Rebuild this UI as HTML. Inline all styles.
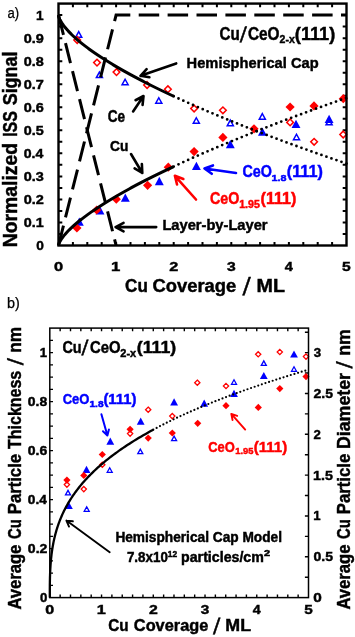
<!DOCTYPE html>
<html><head><meta charset="utf-8"><title>Cu/CeO2-x(111) ISS and particle size</title>
<style>html,body{margin:0;padding:0;background:#fff;width:355px;height:637px;overflow:hidden}svg{display:block}</style>
</head><body>
<svg width="355" height="637" viewBox="0 0 355 637" font-family='"Liberation Sans", sans-serif' font-weight="bold">
<rect width="355" height="637" fill="#fff"/>
<path d="M72.9 245.5v-3.6M72.9 3.58v3.6M87.3 245.5v-3.6M87.3 3.58v3.6M101.7 245.5v-3.6M101.7 3.58v3.6M116.1 245.5v-3.6M116.1 3.58v3.6M130.5 245.5v-3.6M130.5 3.58v3.6M144.9 245.5v-3.6M144.9 3.58v3.6M159.3 245.5v-3.6M159.3 3.58v3.6M173.7 245.5v-3.6M173.7 3.58v3.6M188.1 245.5v-3.6M188.1 3.58v3.6M202.5 245.5v-3.6M202.5 3.58v3.6M216.9 245.5v-3.6M216.9 3.58v3.6M231.3 245.5v-3.6M231.3 3.58v3.6M245.7 245.5v-3.6M245.7 3.58v3.6M260.1 245.5v-3.6M260.1 3.58v3.6M274.5 245.5v-3.6M274.5 3.58v3.6M288.9 245.5v-3.6M288.9 3.58v3.6M303.3 245.5v-3.6M303.3 3.58v3.6M317.7 245.5v-3.6M317.7 3.58v3.6M332.1 245.5v-3.6M332.1 3.58v3.6M58.5 233.98h3.8M346.5 233.98h-3.8M58.5 222.46h3.8M346.5 222.46h-3.8M58.5 210.94h3.8M346.5 210.94h-3.8M58.5 199.42h3.8M346.5 199.42h-3.8M58.5 187.9h3.8M346.5 187.9h-3.8M58.5 176.38h3.8M346.5 176.38h-3.8M58.5 164.86h3.8M346.5 164.86h-3.8M58.5 153.34h3.8M346.5 153.34h-3.8M58.5 141.82h3.8M346.5 141.82h-3.8M58.5 130.3h3.8M346.5 130.3h-3.8M58.5 118.78h3.8M346.5 118.78h-3.8M58.5 107.26h3.8M346.5 107.26h-3.8M58.5 95.74h3.8M346.5 95.74h-3.8M58.5 84.22h3.8M346.5 84.22h-3.8M58.5 72.7h3.8M346.5 72.7h-3.8M58.5 61.18h3.8M346.5 61.18h-3.8M58.5 49.66h3.8M346.5 49.66h-3.8M58.5 38.14h3.8M346.5 38.14h-3.8M58.5 26.62h3.8M346.5 26.62h-3.8M58.5 15.1h3.8M346.5 15.1h-3.8" stroke="#000" stroke-width="2" fill="none"/>
<path d="M78.7 31.65L81.73 37.15L75.67 37.15Z" fill="none" stroke="#0000ff" stroke-width="1.5" stroke-linejoin="miter" stroke-miterlimit="10"/>
<path d="M99.4 72.05L102.43 77.55L96.37 77.55Z" fill="none" stroke="#0000ff" stroke-width="1.5" stroke-linejoin="miter" stroke-miterlimit="10"/>
<path d="M125.1 79.25L128.13 84.75L122.07 84.75Z" fill="none" stroke="#0000ff" stroke-width="1.5" stroke-linejoin="miter" stroke-miterlimit="10"/>
<path d="M158.8 97.75L161.83 103.25L155.77 103.25Z" fill="none" stroke="#0000ff" stroke-width="1.5" stroke-linejoin="miter" stroke-miterlimit="10"/>
<path d="M196.3 117.75L199.33 123.25L193.27 123.25Z" fill="none" stroke="#0000ff" stroke-width="1.5" stroke-linejoin="miter" stroke-miterlimit="10"/>
<path d="M230.3 120.15L233.33 125.65L227.27 125.65Z" fill="none" stroke="#0000ff" stroke-width="1.5" stroke-linejoin="miter" stroke-miterlimit="10"/>
<path d="M262.3 113.65L265.33 119.15L259.27 119.15Z" fill="none" stroke="#0000ff" stroke-width="1.5" stroke-linejoin="miter" stroke-miterlimit="10"/>
<path d="M296.5 134.25L299.53 139.75L293.47 139.75Z" fill="none" stroke="#0000ff" stroke-width="1.5" stroke-linejoin="miter" stroke-miterlimit="10"/>
<path d="M329.1 119.35L332.13 124.85L326.07 124.85Z" fill="none" stroke="#0000ff" stroke-width="1.5" stroke-linejoin="miter" stroke-miterlimit="10"/>
<path d="M79.3 217.55L83.75 225.85L74.85 225.85Z" fill="#0000ff"/>
<path d="M100 206.25L104.45 214.55L95.55 214.55Z" fill="#0000ff"/>
<path d="M125.3 193.45L129.75 201.75L120.85 201.75Z" fill="#0000ff"/>
<path d="M159.3 176.85L163.75 185.15L154.85 185.15Z" fill="#0000ff"/>
<path d="M196.4 161.75L200.85 170.05L191.95 170.05Z" fill="#0000ff"/>
<path d="M230.3 139.95L234.75 148.25L225.85 148.25Z" fill="#0000ff"/>
<path d="M262.4 127.45L266.85 135.75L257.95 135.75Z" fill="#0000ff"/>
<path d="M296 119.75L300.45 128.05L291.55 128.05Z" fill="#0000ff"/>
<path d="M329.1 114.65L333.55 122.95L324.65 122.95Z" fill="#0000ff"/>
<path d="M77.2 36.66L80.54 40L77.2 43.34L73.86 40Z" fill="none" stroke="#ff0000" stroke-width="1.5"/>
<path d="M97 59.26L100.34 62.6L97 65.94L93.66 62.6Z" fill="none" stroke="#ff0000" stroke-width="1.5"/>
<path d="M116.5 68.76L119.84 72.1L116.5 75.44L113.16 72.1Z" fill="none" stroke="#ff0000" stroke-width="1.5"/>
<path d="M147.1 81.66L150.44 85L147.1 88.34L143.76 85Z" fill="none" stroke="#ff0000" stroke-width="1.5"/>
<path d="M167.9 85.86L171.24 89.2L167.9 92.54L164.56 89.2Z" fill="none" stroke="#ff0000" stroke-width="1.5"/>
<path d="M194.1 105.16L197.44 108.5L194.1 111.84L190.76 108.5Z" fill="none" stroke="#ff0000" stroke-width="1.5"/>
<path d="M222.9 106.96L226.24 110.3L222.9 113.64L219.56 110.3Z" fill="none" stroke="#ff0000" stroke-width="1.5"/>
<path d="M290.1 119.06L293.44 122.4L290.1 125.74L286.76 122.4Z" fill="none" stroke="#ff0000" stroke-width="1.5"/>
<path d="M314.1 138.46L317.44 141.8L314.1 145.14L310.76 141.8Z" fill="none" stroke="#ff0000" stroke-width="1.5"/>
<path d="M343.2 131.16L346.54 134.5L343.2 137.84L339.86 134.5Z" fill="none" stroke="#ff0000" stroke-width="1.5"/>
<path d="M76.9 223.4L81.5 228L76.9 232.6L72.3 228Z" fill="#ff0000"/>
<path d="M96.7 205.4L101.3 210L96.7 214.6L92.1 210Z" fill="#ff0000"/>
<path d="M116.3 194.6L120.9 199.2L116.3 203.8L111.7 199.2Z" fill="#ff0000"/>
<path d="M147.6 180.7L152.2 185.3L147.6 189.9L143 185.3Z" fill="#ff0000"/>
<path d="M168.3 162.6L172.9 167.2L168.3 171.8L163.7 167.2Z" fill="#ff0000"/>
<path d="M194.1 147L198.7 151.6L194.1 156.2L189.5 151.6Z" fill="#ff0000"/>
<path d="M222.9 132.8L227.5 137.4L222.9 142L218.3 137.4Z" fill="#ff0000"/>
<path d="M254 124.2L258.6 128.8L254 133.4L249.4 128.8Z" fill="#ff0000"/>
<path d="M290.1 102.4L294.7 107L290.1 111.6L285.5 107Z" fill="#ff0000"/>
<path d="M314 101.3L318.6 105.9L314 110.5L309.4 105.9Z" fill="#ff0000"/>
<path d="M343.3 94.1L347.9 98.7L343.3 103.3L338.7 98.7Z" fill="#ff0000"/>
<path d="M58.5 245.5L116.1 15.1L346.5 15.1" fill="none" stroke="#000" stroke-width="3" stroke-dasharray="20.5 8.4" stroke-dashoffset="0"/>
<path d="M58.5 15.1L116.1 245.5" fill="none" stroke="#000" stroke-width="3" stroke-dasharray="20.5 8.4"/>
<path d="M58.5,15.1 L58.66,16.17 L58.96,17.22 L59.34,18.26 L59.79,19.3 L60.3,20.34 L60.87,21.37 L61.48,22.4 L62.14,23.43 L62.85,24.46 L63.59,25.49 L64.37,26.52 L65.19,27.54 L66.05,28.57 L66.93,29.59 L67.85,30.61 L68.8,31.64 L69.78,32.66 L70.79,33.68 L71.83,34.7 L72.9,35.72 L73.99,36.74 L75.11,37.75 L76.26,38.77 L77.43,39.79 L78.62,40.81 L79.84,41.82 L81.09,42.84 L82.35,43.85 L83.64,44.87 L84.95,45.88 L86.29,46.9 L87.64,47.91 L89.02,48.92 L90.42,49.94 L91.84,50.95 L93.28,51.96 L94.73,52.97 L96.21,53.98 L97.71,55 L99.23,56.01 L100.77,57.02 L102.32,58.03 L103.9,59.04 L105.49,60.05 L107.1,61.06 L108.73,62.07 L110.38,63.08 L112.04,64.09 L113.72,65.09 L115.42,66.1 L117.14,67.11 L118.87,68.12 L120.62,69.13 L122.39,70.13 L124.17,71.14 L125.97,72.15 L127.78,73.15 L129.61,74.16 L131.46,75.17 L133.32,76.17 L135.2,77.18 L137.1,78.19 L139.01,79.19 L140.93,80.2 L142.87,81.2 L144.82,82.21 L146.79,83.21 L148.78,84.22 L150.78,85.22 L152.79,86.23 L154.82,87.23 L156.86,88.24 L158.92,89.24 L160.99,90.24 L163.07,91.25 L165.17,92.25 L167.28,93.25 L169.41,94.26 L171.55,95.26 L173.7,96.26" fill="none" stroke="#000" stroke-width="3"/>
<path d="M58.5,245.5 L58.66,244.61 L58.96,243.7 L59.34,242.77 L59.79,241.83 L60.3,240.89 L60.87,239.94 L61.48,238.99 L62.14,238.04 L62.85,237.08 L63.59,236.12 L64.37,235.16 L65.19,234.19 L66.05,233.23 L66.93,232.26 L67.85,231.29 L68.8,230.32 L69.78,229.34 L70.79,228.37 L71.83,227.39 L72.9,226.42 L73.99,225.44 L75.11,224.46 L76.26,223.48 L77.43,222.5 L78.62,221.51 L79.84,220.53 L81.09,219.55 L82.35,218.56 L83.64,217.57 L84.95,216.59 L86.29,215.6 L87.64,214.61 L89.02,213.62 L90.42,212.63 L91.84,211.64 L93.28,210.65 L94.73,209.66 L96.21,208.67 L97.71,207.67 L99.23,206.68 L100.77,205.68 L102.32,204.69 L103.9,203.69 L105.49,202.7 L107.1,201.7 L108.73,200.7 L110.38,199.7 L112.04,198.7 L113.72,197.71 L115.42,196.71 L117.14,195.71 L118.87,194.71 L120.62,193.7 L122.39,192.7 L124.17,191.7 L125.97,190.7 L127.78,189.7 L129.61,188.69 L131.46,187.69 L133.32,186.69 L135.2,185.68 L137.1,184.68 L139.01,183.67 L140.93,182.67 L142.87,181.66 L144.82,180.65 L146.79,179.65 L148.78,178.64 L150.78,177.63 L152.79,176.62 L154.82,175.62 L156.86,174.61 L158.92,173.6 L160.99,172.59 L163.07,171.58 L165.17,170.57 L167.28,169.56 L169.41,168.55 L171.55,167.54 L173.7,166.53" fill="none" stroke="#000" stroke-width="3"/>
<path d="M173.7,96.26 L176.58,97.6 L179.46,98.92 L182.34,100.23 L185.22,101.52 L188.1,102.81 L190.98,104.09 L193.86,105.36 L196.74,106.63 L199.62,107.88 L202.5,109.12 L205.38,110.36 L208.26,111.58 L211.14,112.8 L214.02,114.01 L216.9,115.22 L219.78,116.41 L222.66,117.6 L225.54,118.78 L228.42,119.96 L231.3,121.12 L234.18,122.29 L237.06,123.44 L239.94,124.59 L242.82,125.73 L245.7,126.87 L248.58,128 L251.46,129.12 L254.34,130.24 L257.22,131.35 L260.1,132.46 L262.98,133.56 L265.86,134.66 L268.74,135.75 L271.62,136.84 L274.5,137.92 L277.38,139 L280.26,140.07 L283.14,141.14 L286.02,142.2 L288.9,143.26 L291.78,144.31 L294.66,145.36 L297.54,146.4 L300.42,147.44 L303.3,148.48 L306.18,149.51 L309.06,150.54 L311.94,151.56 L314.82,152.58 L317.7,153.6 L320.58,154.61 L323.46,155.62 L326.34,156.63 L329.22,157.63 L332.1,158.62 L334.98,159.62 L337.86,160.61 L340.74,161.59 L343.62,162.58 L346.5,163.56" fill="none" stroke="#000" stroke-width="2.8" stroke-dasharray="0 5.3" stroke-linecap="round" stroke-dashoffset="-5.3"/>
<path d="M173.7,166.53 L176.58,165.18 L179.46,163.85 L182.34,162.53 L185.22,161.21 L188.1,159.91 L190.98,158.62 L193.86,157.33 L196.74,156.05 L199.62,154.78 L202.5,153.52 L205.38,152.27 L208.26,151.03 L211.14,149.79 L214.02,148.56 L216.9,147.34 L219.78,146.12 L222.66,144.91 L225.54,143.71 L228.42,142.52 L231.3,141.33 L234.18,140.14 L237.06,138.97 L239.94,137.8 L242.82,136.63 L245.7,135.47 L248.58,134.32 L251.46,133.17 L254.34,132.03 L257.22,130.89 L260.1,129.76 L262.98,128.63 L265.86,127.51 L268.74,126.4 L271.62,125.28 L274.5,124.18 L277.38,123.07 L280.26,121.98 L283.14,120.88 L286.02,119.79 L288.9,118.71 L291.78,117.63 L294.66,116.55 L297.54,115.48 L300.42,114.41 L303.3,113.35 L306.18,112.29 L309.06,111.23 L311.94,110.18 L314.82,109.13 L317.7,108.09 L320.58,107.05 L323.46,106.01 L326.34,104.98 L329.22,103.95 L332.1,102.92 L334.98,101.9 L337.86,100.88 L340.74,99.86 L343.62,98.85 L346.5,97.84" fill="none" stroke="#000" stroke-width="2.8" stroke-dasharray="0 5.3" stroke-linecap="round" stroke-dashoffset="-5.3"/>
<rect x="58.5" y="3.58" width="288" height="241.92" fill="none" stroke="#000" stroke-width="2.4"/>
<text x="36.24" y="250.2" font-size="13.7" textLength="7.62" lengthAdjust="spacingAndGlyphs" stroke="#000" stroke-width="0.45">0</text>
<text x="23.73" y="227.16" font-size="13.7" textLength="19.97" lengthAdjust="spacingAndGlyphs" stroke="#000" stroke-width="0.45">0.1</text>
<text x="23.73" y="204.12" font-size="13.7" textLength="20.15" lengthAdjust="spacingAndGlyphs" stroke="#000" stroke-width="0.45">0.2</text>
<text x="23.73" y="181.08" font-size="13.7" textLength="20.09" lengthAdjust="spacingAndGlyphs" stroke="#000" stroke-width="0.45">0.3</text>
<text x="23.74" y="158.04" font-size="13.7" textLength="19.63" lengthAdjust="spacingAndGlyphs" stroke="#000" stroke-width="0.45">0.4</text>
<text x="23.73" y="135" font-size="13.7" textLength="19.97" lengthAdjust="spacingAndGlyphs" stroke="#000" stroke-width="0.45">0.5</text>
<text x="23.73" y="111.96" font-size="13.7" textLength="20.09" lengthAdjust="spacingAndGlyphs" stroke="#000" stroke-width="0.45">0.6</text>
<text x="23.72" y="88.92" font-size="13.7" textLength="20.21" lengthAdjust="spacingAndGlyphs" stroke="#000" stroke-width="0.45">0.7</text>
<text x="23.73" y="65.88" font-size="13.7" textLength="20.01" lengthAdjust="spacingAndGlyphs" stroke="#000" stroke-width="0.45">0.8</text>
<text x="23.73" y="42.84" font-size="13.7" textLength="20.11" lengthAdjust="spacingAndGlyphs" stroke="#000" stroke-width="0.45">0.9</text>
<text x="36.06" y="19.8" font-size="13.7" textLength="7.62" lengthAdjust="spacingAndGlyphs" stroke="#000" stroke-width="0.45">1</text>
<text x="53.95" y="271.4" font-size="13.7" textLength="9.12" lengthAdjust="spacingAndGlyphs" stroke="#000" stroke-width="0.45">0</text>
<text x="111.14" y="271.4" font-size="13.7" textLength="9.32" lengthAdjust="spacingAndGlyphs" stroke="#000" stroke-width="0.45">1</text>
<text x="169.24" y="271.4" font-size="13.7" textLength="9.01" lengthAdjust="spacingAndGlyphs" stroke="#000" stroke-width="0.45">2</text>
<text x="227.04" y="271.4" font-size="13.7" textLength="8.73" lengthAdjust="spacingAndGlyphs" stroke="#000" stroke-width="0.45">3</text>
<text x="284.78" y="271.4" font-size="13.7" textLength="8.1" lengthAdjust="spacingAndGlyphs" stroke="#000" stroke-width="0.45">4</text>
<text x="342.12" y="271.4" font-size="13.7" textLength="8.72" lengthAdjust="spacingAndGlyphs" stroke="#000" stroke-width="0.45">5</text>
<text x="7.44" y="17.9" font-size="13.8" textLength="11.67" lengthAdjust="spacingAndGlyphs" font-weight="normal" stroke="#000" stroke-width="0.25">a)</text>
<text x="17.1" y="247.19" font-size="20.06" textLength="104.27" lengthAdjust="spacingAndGlyphs" transform="rotate(-90 17.1 247.19)" stroke="#000" stroke-width="0.45">Normalized</text>
<text x="17.1" y="136.86" font-size="20.06" textLength="25.58" lengthAdjust="spacingAndGlyphs" transform="rotate(-90 17.1 136.86)" stroke="#000" stroke-width="0.45">ISS</text>
<text x="17.1" y="105.32" font-size="20.06" textLength="53.79" lengthAdjust="spacingAndGlyphs" transform="rotate(-90 17.1 105.32)" stroke="#000" stroke-width="0.45">Signal</text>
<text x="125.1" y="292.4" font-size="18.75" textLength="22.72" lengthAdjust="spacingAndGlyphs" stroke="#000" stroke-width="0.45">Cu</text>
<text x="152.45" y="292.4" font-size="18.75" textLength="83.78" lengthAdjust="spacingAndGlyphs" stroke="#000" stroke-width="0.45">Coverage</text>
<text x="256.58" y="292.4" font-size="18.75" textLength="28.42" lengthAdjust="spacingAndGlyphs" stroke="#000" stroke-width="0.45">ML</text>
<text transform="translate(246.5 286.4) skewX(-4)" x="0" y="8.9" font-size="24.93" font-weight="normal" text-anchor="middle" stroke="#000" stroke-width="0.5">/</text>
<text x="219.58" y="39.6" font-size="18.02" textLength="20.22" lengthAdjust="spacingAndGlyphs" stroke="#000" stroke-width="0.45">Cu</text>
<text transform="translate(243.3 33.85) skewX(-4)" x="0" y="7.68" font-size="21.53" font-weight="normal" text-anchor="middle" stroke="#000" stroke-width="0.5">/</text>
<text x="247.97" y="39.6" font-size="18.02" textLength="31.57" lengthAdjust="spacingAndGlyphs" stroke="#000" stroke-width="0.45">CeO</text>
<text x="279.53" y="43.4" font-size="11.63" textLength="15.24" lengthAdjust="spacingAndGlyphs" stroke="#000" stroke-width="0.45">2-x</text>
<text x="294.84" y="39.6" font-size="18.02" textLength="40.42" lengthAdjust="spacingAndGlyphs" stroke="#000" stroke-width="0.45">(111)</text>
<text x="186.62" y="68.3" font-size="15.55" textLength="131.98" lengthAdjust="spacingAndGlyphs" stroke="#000" stroke-width="0.45">Hemispherical Cap</text>
<text x="107.64" y="121.8" font-size="15.7" textLength="17.42" lengthAdjust="spacingAndGlyphs" stroke="#000" stroke-width="0.45">Ce</text>
<text x="110.03" y="151" font-size="15.12" textLength="18.37" lengthAdjust="spacingAndGlyphs" stroke="#000" stroke-width="0.45">Cu</text>
<text x="242.41" y="177.4" font-size="16.42" textLength="29.49" lengthAdjust="spacingAndGlyphs" fill="#0000ff" stroke="#0000ff" stroke-width="0.45">CeO</text>
<text x="271.62" y="180.7" font-size="9.45" textLength="15.01" lengthAdjust="spacingAndGlyphs" fill="#0000ff" stroke="#0000ff" stroke-width="0.45">1.8</text>
<text x="286.73" y="177.4" font-size="16.42" textLength="36.14" lengthAdjust="spacingAndGlyphs" fill="#0000ff" stroke="#0000ff" stroke-width="0.45">(111)</text>
<text x="210.01" y="204.2" font-size="15.84" textLength="29.39" lengthAdjust="spacingAndGlyphs" fill="#ff0000" stroke="#ff0000" stroke-width="0.45">CeO</text>
<text x="239.23" y="207.6" font-size="10.03" textLength="20.56" lengthAdjust="spacingAndGlyphs" fill="#ff0000" stroke="#ff0000" stroke-width="0.45">1.95</text>
<text x="260.53" y="204.2" font-size="15.84" textLength="35.93" lengthAdjust="spacingAndGlyphs" fill="#ff0000" stroke="#ff0000" stroke-width="0.45">(111)</text>
<text x="162.42" y="229.9" font-size="14.53" textLength="105.1" lengthAdjust="spacingAndGlyphs" stroke="#000" stroke-width="0.45">Layer-by-Layer</text>
<path d="M176.2 63.4L140.5 75.8M149.39 77.18L140.5 75.8L146.62 69.2" fill="none" stroke="#000" stroke-width="2.6" stroke-linecap="round" stroke-linejoin="round"/>
<path d="M133.1 111.5L143.5 96M135.56 100.24L143.5 96L142.58 104.95" fill="none" stroke="#000" stroke-width="2.6" stroke-linecap="round" stroke-linejoin="round"/>
<path d="M131 154L142.3 173M141.87 164.01L142.3 173L134.61 168.33" fill="none" stroke="#000" stroke-width="2.6" stroke-linecap="round" stroke-linejoin="round"/>
<path d="M236 173L204.5 168.5M211.77 173.81L204.5 168.5L212.96 165.44" fill="none" stroke="#0000ff" stroke-width="2.6" stroke-linecap="round" stroke-linejoin="round"/>
<path d="M196 199.5L174.9 175.8M177.03 184.54L174.9 175.8L183.34 178.93" fill="none" stroke="#ff0000" stroke-width="2.6" stroke-linecap="round" stroke-linejoin="round"/>
<path d="M156.2 227.1L115.6 227.1M123.55 231.33L115.6 227.1L123.55 222.87" fill="none" stroke="#000" stroke-width="2.6" stroke-linecap="round" stroke-linejoin="round"/>
<path d="M60.15 597.6v-3.2M60.15 328.1v3.2M70.5 597.6v-3.2M70.5 328.1v3.2M80.84 597.6v-3.2M80.84 328.1v3.2M91.19 597.6v-3.2M91.19 328.1v3.2M101.54 597.6v-3.2M101.54 328.1v3.2M111.89 597.6v-3.2M111.89 328.1v3.2M122.24 597.6v-3.2M122.24 328.1v3.2M132.58 597.6v-3.2M132.58 328.1v3.2M142.93 597.6v-3.2M142.93 328.1v3.2M153.28 597.6v-3.2M153.28 328.1v3.2M163.63 597.6v-3.2M163.63 328.1v3.2M173.98 597.6v-3.2M173.98 328.1v3.2M184.32 597.6v-3.2M184.32 328.1v3.2M194.67 597.6v-3.2M194.67 328.1v3.2M205.02 597.6v-3.2M205.02 328.1v3.2M215.37 597.6v-3.2M215.37 328.1v3.2M225.72 597.6v-3.2M225.72 328.1v3.2M236.06 597.6v-3.2M236.06 328.1v3.2M246.41 597.6v-3.2M246.41 328.1v3.2M256.76 597.6v-3.2M256.76 328.1v3.2M267.11 597.6v-3.2M267.11 328.1v3.2M277.46 597.6v-3.2M277.46 328.1v3.2M287.8 597.6v-3.2M287.8 328.1v3.2M298.15 597.6v-3.2M298.15 328.1v3.2M49.8 585.35h3.2M49.8 573.1h3.2M49.8 560.85h3.2M49.8 548.6h3.2M49.8 536.35h3.2M49.8 524.1h3.2M49.8 511.85h3.2M49.8 499.6h3.2M49.8 487.35h3.2M49.8 475.1h3.2M49.8 462.85h3.2M49.8 450.6h3.2M49.8 438.35h3.2M49.8 426.1h3.2M49.8 413.85h3.2M49.8 401.6h3.2M49.8 389.35h3.2M49.8 377.1h3.2M49.8 364.85h3.2M49.8 352.6h3.2M49.8 340.35h3.2M308.5 577.18h-3.6M308.5 556.77h-3.6M308.5 536.35h-3.6M308.5 515.93h-3.6M308.5 495.52h-3.6M308.5 475.1h-3.6M308.5 454.68h-3.6M308.5 434.27h-3.6M308.5 413.85h-3.6M308.5 393.43h-3.6M308.5 373.02h-3.6M308.5 352.6h-3.6M308.5 332.18h-3.6" stroke="#000" stroke-width="1.4" fill="none"/>
<path d="M68 490.39L70.5 494.9L65.5 494.9Z" fill="none" stroke="#0000ff" stroke-width="1.3" stroke-linejoin="miter" stroke-miterlimit="10"/>
<path d="M86.7 506.79L89.2 511.3L84.2 511.3Z" fill="none" stroke="#0000ff" stroke-width="1.3" stroke-linejoin="miter" stroke-miterlimit="10"/>
<path d="M109.7 467.79L112.2 472.3L107.2 472.3Z" fill="none" stroke="#0000ff" stroke-width="1.3" stroke-linejoin="miter" stroke-miterlimit="10"/>
<path d="M140.3 449.09L142.8 453.6L137.8 453.6Z" fill="none" stroke="#0000ff" stroke-width="1.3" stroke-linejoin="miter" stroke-miterlimit="10"/>
<path d="M174.1 436.19L176.6 440.7L171.6 440.7Z" fill="none" stroke="#0000ff" stroke-width="1.3" stroke-linejoin="miter" stroke-miterlimit="10"/>
<path d="M234 379.79L236.5 384.3L231.5 384.3Z" fill="none" stroke="#0000ff" stroke-width="1.3" stroke-linejoin="miter" stroke-miterlimit="10"/>
<path d="M263.8 360.89L266.3 365.4L261.3 365.4Z" fill="none" stroke="#0000ff" stroke-width="1.3" stroke-linejoin="miter" stroke-miterlimit="10"/>
<path d="M294 366.79L296.5 371.3L291.5 371.3Z" fill="none" stroke="#0000ff" stroke-width="1.3" stroke-linejoin="miter" stroke-miterlimit="10"/>
<path d="M68.9 501.9L72.8 509.1L65 509.1Z" fill="#0000ff"/>
<path d="M86.5 465.7L90.4 472.9L82.6 472.9Z" fill="#0000ff"/>
<path d="M110.3 437.6L114.2 444.8L106.4 444.8Z" fill="#0000ff"/>
<path d="M140.7 417.6L144.6 424.8L136.8 424.8Z" fill="#0000ff"/>
<path d="M174.1 398.3L178 405.5L170.2 405.5Z" fill="#0000ff"/>
<path d="M204.2 399.6L208.1 406.8L200.3 406.8Z" fill="#0000ff"/>
<path d="M234 389.8L237.9 397L230.1 397Z" fill="#0000ff"/>
<path d="M263.8 371.9L267.7 379.1L259.9 379.1Z" fill="#0000ff"/>
<path d="M294 350.4L297.9 357.6L290.1 357.6Z" fill="#0000ff"/>
<path d="M66.9 481.97L69.53 484.6L66.9 487.23L64.27 484.6Z" fill="none" stroke="#ff0000" stroke-width="1.3"/>
<path d="M83.8 486.47L86.43 489.1L83.8 491.73L81.17 489.1Z" fill="none" stroke="#ff0000" stroke-width="1.3"/>
<path d="M102.3 462.17L104.93 464.8L102.3 467.43L99.67 464.8Z" fill="none" stroke="#ff0000" stroke-width="1.3"/>
<path d="M130.1 430.97L132.73 433.6L130.1 436.23L127.47 433.6Z" fill="none" stroke="#ff0000" stroke-width="1.3"/>
<path d="M148.2 407.07L150.83 409.7L148.2 412.33L145.57 409.7Z" fill="none" stroke="#ff0000" stroke-width="1.3"/>
<path d="M172.3 413.47L174.93 416.1L172.3 418.73L169.67 416.1Z" fill="none" stroke="#ff0000" stroke-width="1.3"/>
<path d="M197.3 380.07L199.93 382.7L197.3 385.33L194.67 382.7Z" fill="none" stroke="#ff0000" stroke-width="1.3"/>
<path d="M226 383.37L228.63 386L226 388.63L223.37 386Z" fill="none" stroke="#ff0000" stroke-width="1.3"/>
<path d="M258.2 351.67L260.83 354.3L258.2 356.93L255.57 354.3Z" fill="none" stroke="#ff0000" stroke-width="1.3"/>
<path d="M279.8 349.37L282.43 352L279.8 354.63L277.17 352Z" fill="none" stroke="#ff0000" stroke-width="1.3"/>
<path d="M306 353.97L308.63 356.6L306 359.23L303.37 356.6Z" fill="none" stroke="#ff0000" stroke-width="1.3"/>
<path d="M66.9 476.5L70.5 480.1L66.9 483.7L63.3 480.1Z" fill="#ff0000"/>
<path d="M83.8 471.8L87.4 475.4L83.8 479L80.2 475.4Z" fill="#ff0000"/>
<path d="M102.3 450.9L105.9 454.5L102.3 458.1L98.7 454.5Z" fill="#ff0000"/>
<path d="M130.1 425.7L133.7 429.3L130.1 432.9L126.5 429.3Z" fill="#ff0000"/>
<path d="M148.2 434.5L151.8 438.1L148.2 441.7L144.6 438.1Z" fill="#ff0000"/>
<path d="M172.3 429.4L175.9 433L172.3 436.6L168.7 433Z" fill="#ff0000"/>
<path d="M197.7 419.7L201.3 423.3L197.7 426.9L194.1 423.3Z" fill="#ff0000"/>
<path d="M226 402.1L229.6 405.7L226 409.3L222.4 405.7Z" fill="#ff0000"/>
<path d="M258.3 403.8L261.9 407.4L258.3 411L254.7 407.4Z" fill="#ff0000"/>
<path d="M279.8 385L283.4 388.6L279.8 392.2L276.2 388.6Z" fill="#ff0000"/>
<path d="M306 373L309.6 376.6L306 380.2L302.4 376.6Z" fill="#ff0000"/>
<path d="M49.8,597.6 L49.8,596.2 L49.8,594.8 L49.8,593.4 L49.8,592 L49.81,590.6 L49.81,589.2 L49.82,587.8 L49.83,586.41 L49.84,585.01 L49.86,583.61 L49.88,582.21 L49.9,580.81 L49.93,579.41 L49.96,578.01 L50,576.61 L50.05,575.21 L50.09,573.81 L50.15,572.41 L50.21,571.01 L50.28,569.61 L50.35,568.21 L50.44,566.81 L50.53,565.41 L50.63,564.02 L50.74,562.62 L50.85,561.22 L50.98,559.82 L51.11,558.42 L51.26,557.02 L51.42,555.62 L51.58,554.22 L51.76,552.82 L51.95,551.42 L52.15,550.02 L52.37,548.62 L52.59,547.22 L52.83,545.82 L53.09,544.42 L53.35,543.03 L53.63,541.63 L53.93,540.23 L54.24,538.83 L54.56,537.43 L54.9,536.03 L55.26,534.63 L55.63,533.23 L56.02,531.83 L56.42,530.43 L56.85,529.03 L57.29,527.63 L57.74,526.23 L58.22,524.83 L58.72,523.43 L59.23,522.03 L59.76,520.64 L60.32,519.24 L60.89,517.84 L61.48,516.44 L62.1,515.04 L62.73,513.64 L63.39,512.24 L64.07,510.84 L64.77,509.44 L65.5,508.04 L66.25,506.64 L67.02,505.24 L67.81,503.84 L68.63,502.44 L69.47,501.04 L70.34,499.65 L71.23,498.25 L72.15,496.85 L73.1,495.45 L74.07,494.05 L75.06,492.65 L76.09,491.25 L77.14,489.85 L78.22,488.45 L79.33,487.05 L80.46,485.65 L81.62,484.25 L82.82,482.85 L84.04,481.45 L85.29,480.05 L86.58,478.66 L87.89,477.26 L89.23,475.86 L90.61,474.46 L92.02,473.06 L93.46,471.66 L94.93,470.26 L96.43,468.86 L97.97,467.46 L99.54,466.06 L101.14,464.66 L102.78,463.26 L104.45,461.86 L106.16,460.46 L107.91,459.06 L109.68,457.66 L111.5,456.27 L113.35,454.87 L115.24,453.47 L117.16,452.07 L119.12,450.67 L121.12,449.27 L123.16,447.87 L125.24,446.47 L127.35,445.07 L129.51,443.67 L131.7,442.27 L133.93,440.87 L136.21,439.47 L138.52,438.07 L140.88,436.67 L143.27,435.28 L145.71,433.88 L148.19,432.48 L150.71,431.08 L153.28,429.68" fill="none" stroke="#000" stroke-width="2.3"/>
<path d="M153.28,429.68 L155.87,428.29 L158.45,426.92 L161.04,425.58 L163.63,424.26 L166.21,422.95 L168.8,421.67 L171.39,420.4 L173.98,419.16 L176.56,417.93 L179.15,416.71 L181.74,415.51 L184.32,414.33 L186.91,413.16 L189.5,412.01 L192.08,410.87 L194.67,409.75 L197.26,408.64 L199.85,407.54 L202.43,406.45 L205.02,405.38 L207.61,404.31 L210.19,403.26 L212.78,402.23 L215.37,401.2 L217.95,400.18 L220.54,399.17 L223.13,398.17 L225.72,397.19 L228.3,396.21 L230.89,395.24 L233.48,394.28 L236.06,393.33 L238.65,392.39 L241.24,391.46 L243.82,390.53 L246.41,389.62 L249,388.71 L251.59,387.81 L254.17,386.92 L256.76,386.03 L259.35,385.15 L261.93,384.28 L264.52,383.42 L267.11,382.56 L269.69,381.71 L272.28,380.87 L274.87,380.03 L277.46,379.2 L280.04,378.38 L282.63,377.56 L285.22,376.75 L287.8,375.94 L290.39,375.14 L292.98,374.35 L295.56,373.56 L298.15,372.77 L300.74,372 L303.33,371.22 L305.91,370.46 L308.5,369.69" fill="none" stroke="#000" stroke-width="2.2" stroke-dasharray="0 3.8" stroke-linecap="round" stroke-dashoffset="-3.8"/>
<rect x="49.8" y="328.1" width="258.7" height="269.5" fill="none" stroke="#000" stroke-width="1.5"/>
<text x="40" y="602.1" font-size="13.2" textLength="7.34" lengthAdjust="spacingAndGlyphs" stroke="#000" stroke-width="0.45">0</text>
<text x="27.84" y="553.1" font-size="13.2" textLength="19.52" lengthAdjust="spacingAndGlyphs" stroke="#000" stroke-width="0.45">0.2</text>
<text x="27.86" y="504.1" font-size="13.2" textLength="19.01" lengthAdjust="spacingAndGlyphs" stroke="#000" stroke-width="0.45">0.4</text>
<text x="27.85" y="455.1" font-size="13.2" textLength="19.46" lengthAdjust="spacingAndGlyphs" stroke="#000" stroke-width="0.45">0.6</text>
<text x="27.85" y="406.1" font-size="13.2" textLength="19.38" lengthAdjust="spacingAndGlyphs" stroke="#000" stroke-width="0.45">0.8</text>
<text x="39.83" y="357.1" font-size="13.2" textLength="7.34" lengthAdjust="spacingAndGlyphs" stroke="#000" stroke-width="0.45">1</text>
<text x="313.39" y="602.1" font-size="13.2" textLength="8.54" lengthAdjust="spacingAndGlyphs" stroke="#000" stroke-width="0.45">0</text>
<text x="313.44" y="561.27" font-size="13.2" textLength="19.55" lengthAdjust="spacingAndGlyphs" stroke="#000" stroke-width="0.45">0.5</text>
<text x="313.17" y="520.43" font-size="13.2" textLength="7.34" lengthAdjust="spacingAndGlyphs" stroke="#000" stroke-width="0.45">1</text>
<text x="313.1" y="479.6" font-size="13.2" textLength="19.9" lengthAdjust="spacingAndGlyphs" stroke="#000" stroke-width="0.45">1.5</text>
<text x="313.54" y="438.77" font-size="13.2" textLength="7.34" lengthAdjust="spacingAndGlyphs" stroke="#000" stroke-width="0.45">2</text>
<text x="313.51" y="397.93" font-size="13.2" textLength="19.48" lengthAdjust="spacingAndGlyphs" stroke="#000" stroke-width="0.45">2.5</text>
<text x="313.7" y="357.1" font-size="13.2" textLength="7.34" lengthAdjust="spacingAndGlyphs" stroke="#000" stroke-width="0.45">3</text>
<text x="45.37" y="614.2" font-size="13.2" textLength="8.89" lengthAdjust="spacingAndGlyphs" stroke="#000" stroke-width="0.45">0</text>
<text x="96.71" y="614.2" font-size="13.2" textLength="9.08" lengthAdjust="spacingAndGlyphs" stroke="#000" stroke-width="0.45">1</text>
<text x="148.93" y="614.2" font-size="13.2" textLength="8.78" lengthAdjust="spacingAndGlyphs" stroke="#000" stroke-width="0.45">2</text>
<text x="200.87" y="614.2" font-size="13.2" textLength="8.5" lengthAdjust="spacingAndGlyphs" stroke="#000" stroke-width="0.45">3</text>
<text x="252.75" y="614.2" font-size="13.2" textLength="7.89" lengthAdjust="spacingAndGlyphs" stroke="#000" stroke-width="0.45">4</text>
<text x="304.23" y="614.2" font-size="13.2" textLength="8.49" lengthAdjust="spacingAndGlyphs" stroke="#000" stroke-width="0.45">5</text>
<text x="7.07" y="308.2" font-size="13.8" textLength="12.82" lengthAdjust="spacingAndGlyphs" font-weight="normal" stroke="#000" stroke-width="0.25">b)</text>
<text x="20.9" y="609.61" font-size="17.88" textLength="64.97" lengthAdjust="spacingAndGlyphs" transform="rotate(-90 20.9 609.61)" stroke="#000" stroke-width="0.45">Average</text>
<text x="20.9" y="539.11" font-size="17.88" textLength="19.9" lengthAdjust="spacingAndGlyphs" transform="rotate(-90 20.9 539.11)" stroke="#000" stroke-width="0.45">Cu</text>
<text x="20.9" y="514.22" font-size="17.88" textLength="60.29" lengthAdjust="spacingAndGlyphs" transform="rotate(-90 20.9 514.22)" stroke="#000" stroke-width="0.45">Particle</text>
<text x="20.9" y="448.98" font-size="17.88" textLength="78.24" lengthAdjust="spacingAndGlyphs" transform="rotate(-90 20.9 448.98)" stroke="#000" stroke-width="0.45">Thickness</text>
<text x="20.9" y="352.84" font-size="17.88" textLength="25.91" lengthAdjust="spacingAndGlyphs" transform="rotate(-90 20.9 352.84)" stroke="#000" stroke-width="0.45">nm</text>
<text transform="translate(15.3 361.7) rotate(-90) skewX(-4)" x="0" y="7.78" font-size="21.8" font-weight="normal" text-anchor="middle" stroke="#000" stroke-width="0.5">/</text>
<text x="349.9" y="609.61" font-size="17.88" textLength="65.18" lengthAdjust="spacingAndGlyphs" transform="rotate(-90 349.9 609.61)" stroke="#000" stroke-width="0.45">Average</text>
<text x="349.9" y="539.11" font-size="17.88" textLength="19.9" lengthAdjust="spacingAndGlyphs" transform="rotate(-90 349.9 539.11)" stroke="#000" stroke-width="0.45">Cu</text>
<text x="349.9" y="514.22" font-size="17.88" textLength="60.49" lengthAdjust="spacingAndGlyphs" transform="rotate(-90 349.9 514.22)" stroke="#000" stroke-width="0.45">Particle</text>
<text x="349.9" y="448.99" font-size="17.88" textLength="75.96" lengthAdjust="spacingAndGlyphs" transform="rotate(-90 349.9 448.99)" stroke="#000" stroke-width="0.45">Diameter</text>
<text x="349.9" y="355.86" font-size="17.88" textLength="26.46" lengthAdjust="spacingAndGlyphs" transform="rotate(-90 349.9 355.86)" stroke="#000" stroke-width="0.45">nm</text>
<text transform="translate(344.4 364.9) rotate(-90) skewX(-4)" x="0" y="7.78" font-size="21.8" font-weight="normal" text-anchor="middle" stroke="#000" stroke-width="0.5">/</text>
<text x="108.37" y="631" font-size="16.72" textLength="20.33" lengthAdjust="spacingAndGlyphs" stroke="#000" stroke-width="0.45">Cu</text>
<text x="133.83" y="631" font-size="16.72" textLength="74.53" lengthAdjust="spacingAndGlyphs" stroke="#000" stroke-width="0.45">Coverage</text>
<text x="225.31" y="631" font-size="16.72" textLength="25.74" lengthAdjust="spacingAndGlyphs" stroke="#000" stroke-width="0.45">ML</text>
<text transform="translate(216.7 625.8) skewX(-4)" x="0" y="7.98" font-size="22.34" font-weight="normal" text-anchor="middle" stroke="#000" stroke-width="0.5">/</text>
<text x="62.41" y="353.2" font-size="16.86" textLength="19.24" lengthAdjust="spacingAndGlyphs" stroke="#000" stroke-width="0.45">Cu</text>
<text transform="translate(84.95 347.6) skewX(-4)" x="0" y="7.49" font-size="20.98" font-weight="normal" text-anchor="middle" stroke="#000" stroke-width="0.5">/</text>
<text x="89.99" y="353.2" font-size="16.86" textLength="30.64" lengthAdjust="spacingAndGlyphs" stroke="#000" stroke-width="0.45">CeO</text>
<text x="120.32" y="357.2" font-size="10.47" textLength="15.86" lengthAdjust="spacingAndGlyphs" stroke="#000" stroke-width="0.45">2-x</text>
<text x="136.76" y="353.2" font-size="16.86" textLength="39.38" lengthAdjust="spacingAndGlyphs" stroke="#000" stroke-width="0.45">(111)</text>
<text x="62.67" y="404.2" font-size="14.83" textLength="26.78" lengthAdjust="spacingAndGlyphs" fill="#0000ff" stroke="#0000ff" stroke-width="0.45">CeO</text>
<text x="89.46" y="407" font-size="8.72" textLength="14.15" lengthAdjust="spacingAndGlyphs" fill="#0000ff" stroke="#0000ff" stroke-width="0.45">1.8</text>
<text x="103.4" y="404.2" font-size="14.83" textLength="33.01" lengthAdjust="spacingAndGlyphs" fill="#0000ff" stroke="#0000ff" stroke-width="0.45">(111)</text>
<text x="208.27" y="451.7" font-size="15.12" textLength="26.57" lengthAdjust="spacingAndGlyphs" fill="#ff0000" stroke="#ff0000" stroke-width="0.45">CeO</text>
<text x="235.21" y="454" font-size="9.16" textLength="18.25" lengthAdjust="spacingAndGlyphs" fill="#ff0000" stroke="#ff0000" stroke-width="0.45">1.95</text>
<text x="253.79" y="451.7" font-size="15.12" textLength="33.43" lengthAdjust="spacingAndGlyphs" fill="#ff0000" stroke="#ff0000" stroke-width="0.45">(111)</text>
<text x="115.38" y="541.9" font-size="13.81" textLength="166.58" lengthAdjust="spacingAndGlyphs" stroke="#000" stroke-width="0.45">Hemispherical Cap Model</text>
<text x="126.93" y="561.9" font-size="13.81" textLength="40.92" lengthAdjust="spacingAndGlyphs" stroke="#000" stroke-width="0.45">7.8x10</text>
<text x="167.77" y="556.6" font-size="9.16" textLength="9.37" lengthAdjust="spacingAndGlyphs" stroke="#000" stroke-width="0.45">12</text>
<text x="181.06" y="561.9" font-size="13.81" textLength="82.82" lengthAdjust="spacingAndGlyphs" stroke="#000" stroke-width="0.45">particles/cm</text>
<text x="264.02" y="556.2" font-size="8.72" textLength="6.12" lengthAdjust="spacingAndGlyphs" stroke="#000" stroke-width="0.45">2</text>
<path d="M101.4 414.2L107.4 435.6M108.94 429.59L107.4 435.6L102.97 431.27" fill="none" stroke="#0000ff" stroke-width="2" stroke-linecap="round" stroke-linejoin="round"/>
<path d="M245.2 429.6L231.3 413.9M232.54 419.98L231.3 413.9L237.18 415.87" fill="none" stroke="#ff0000" stroke-width="1.9" stroke-linecap="round" stroke-linejoin="round"/>
<path d="M109.7 552.3L66.4 520.6M69.02 526.55L66.4 520.6L72.86 521.3" fill="none" stroke="#000" stroke-width="1.9" stroke-linecap="round" stroke-linejoin="round"/>
</svg>
</body></html>
